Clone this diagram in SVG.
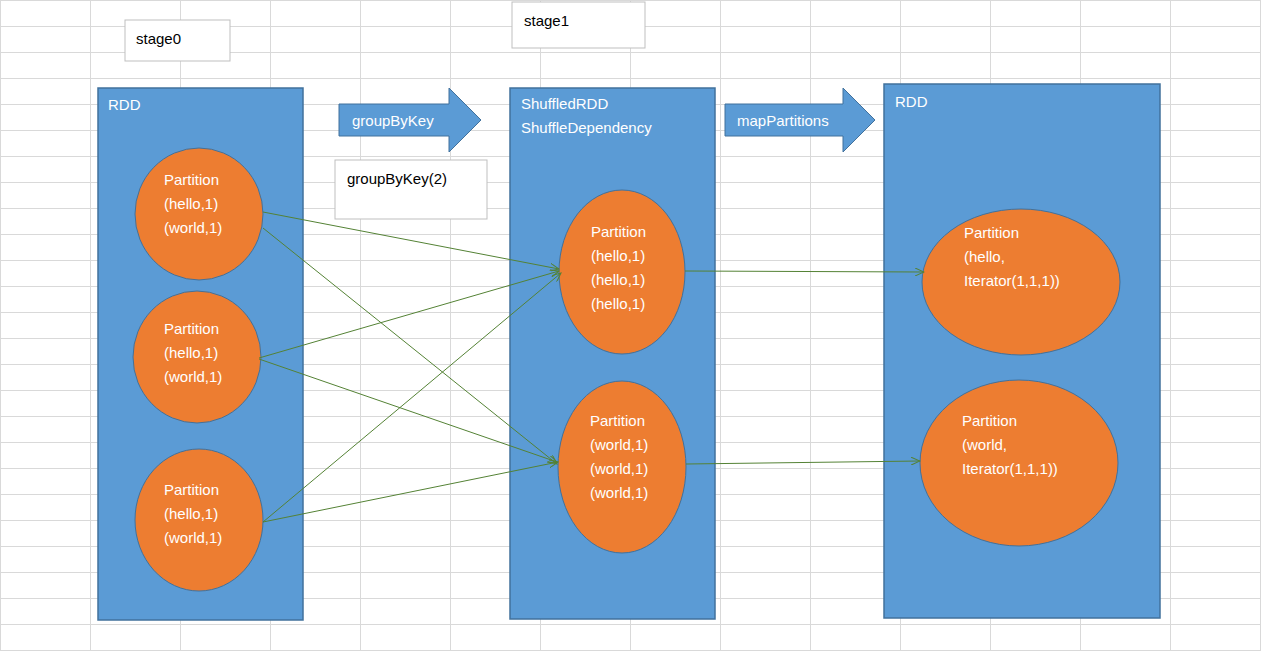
<svg xmlns="http://www.w3.org/2000/svg" width="1261" height="651" viewBox="0 0 1261 651">
<defs>
<pattern id="grid" width="90" height="26" patternUnits="userSpaceOnUse" x="0" y="0">
<path d="M0 0.5H90M0.5 0V26" fill="none" stroke="#d9d9d9" stroke-width="1"/>
</pattern>
<marker id="ah" markerWidth="10" markerHeight="8" refX="9" refY="4" orient="auto" markerUnits="userSpaceOnUse">
<path d="M0 0L9 4L0 8" fill="none" stroke="#548235" stroke-width="1"/>
</marker>
<style>
.t{font-family:"Liberation Sans",Arial,sans-serif;font-size:15px;fill:#fff}
.b{font-family:"Liberation Sans",Arial,sans-serif;font-size:15px;fill:#000}
.rdd{fill:#5b9bd5;stroke:#41719c;stroke-width:1.5}
.p{fill:#ed7d31;stroke:#41719c;stroke-width:1}
.lbl{fill:#fff;stroke:#bfbfbf}
.ar{fill:#5b9bd5;stroke:#41719c}
.c{stroke:#548235;stroke-width:1;fill:none;marker-end:url(#ah)}
</style>
</defs>
<rect width="1261" height="651" fill="#fff"/>
<rect x="0" y="0" width="1261" height="651" fill="url(#grid)" transform="translate(0,0)"/>
<g id="stage0"><rect class="lbl" x="125" y="20" width="105" height="41"/><text class="b" x="136" y="44">stage0</text></g>
<g id="stage1"><rect class="lbl" x="512" y="2" width="133" height="46"/><text class="b" x="524" y="26">stage1</text></g>
<g id="gbk2"><rect class="lbl" x="335" y="160" width="152" height="59"/><text class="b" x="347" y="184">groupByKey(2)</text></g>
<g id="rdd0"><rect class="rdd" x="98" y="88" width="205" height="532"/><text class="t" x="108" y="110">RDD</text>
<ellipse class="p" cx="199" cy="214" rx="64" ry="66"/><text class="t" x="164" y="185">Partition</text><text class="t" x="164" y="209">(hello,1)</text><text class="t" x="164" y="233">(world,1)</text>
<ellipse class="p" cx="197" cy="357" rx="64" ry="66"/><text class="t" x="164" y="334">Partition</text><text class="t" x="164" y="358">(hello,1)</text><text class="t" x="164" y="382">(world,1)</text>
<ellipse class="p" cx="199" cy="520" rx="64" ry="71"/><text class="t" x="164" y="495">Partition</text><text class="t" x="164" y="519">(hello,1)</text><text class="t" x="164" y="543">(world,1)</text>
</g>
<g id="arrow1"><path class="ar" d="M339 104H449V88L481 120L449 152V136H339Z"/><text class="t" x="352" y="126">groupByKey</text></g>
<g id="rdd1"><rect class="rdd" x="510" y="88" width="205" height="531"/><text class="t" x="521" y="109">ShuffledRDD</text><text class="t" x="521" y="133">ShuffleDependency</text>
<ellipse class="p" cx="622" cy="272" rx="63" ry="82"/><text class="t" x="591" y="237">Partition</text><text class="t" x="591" y="261">(hello,1)</text><text class="t" x="591" y="285">(hello,1)</text><text class="t" x="591" y="309">(hello,1)</text>
<ellipse class="p" cx="622" cy="467" rx="64" ry="86"/><text class="t" x="590" y="426">Partition</text><text class="t" x="590" y="450">(world,1)</text><text class="t" x="590" y="474">(world,1)</text><text class="t" x="590" y="498">(world,1)</text>
</g>
<g id="arrow2"><path class="ar" d="M725 104H843V88L875 120L843 152V136H725Z"/><text class="t" x="737" y="126">mapPartitions</text></g>
<g id="rdd2"><rect class="rdd" x="884" y="84" width="276" height="534"/><text class="t" x="895" y="107">RDD</text>
<ellipse class="p" cx="1021" cy="282" rx="99" ry="73"/><text class="t" x="964" y="238">Partition</text><text class="t" x="964" y="262">(hello,</text><text class="t" x="964" y="286">Iterator(1,1,1))</text>
<ellipse class="p" cx="1019" cy="463" rx="99" ry="83"/><text class="t" x="962" y="426">Partition</text><text class="t" x="962" y="450">(world,</text><text class="t" x="962" y="474">Iterator(1,1,1))</text>
</g>
<g id="connectors">
<path class="c" d="M263 212L559 269"/>
<path class="c" d="M263 228L557 464"/>
<path class="c" d="M259 358L559 271"/>
<path class="c" d="M259 359L557 462"/>
<path class="c" d="M263 522L561 273"/>
<path class="c" d="M263 522L558 462"/>
<path class="c" d="M685 271L924 272"/>
<path class="c" d="M686 464L920 461"/>
</g>
</svg>
